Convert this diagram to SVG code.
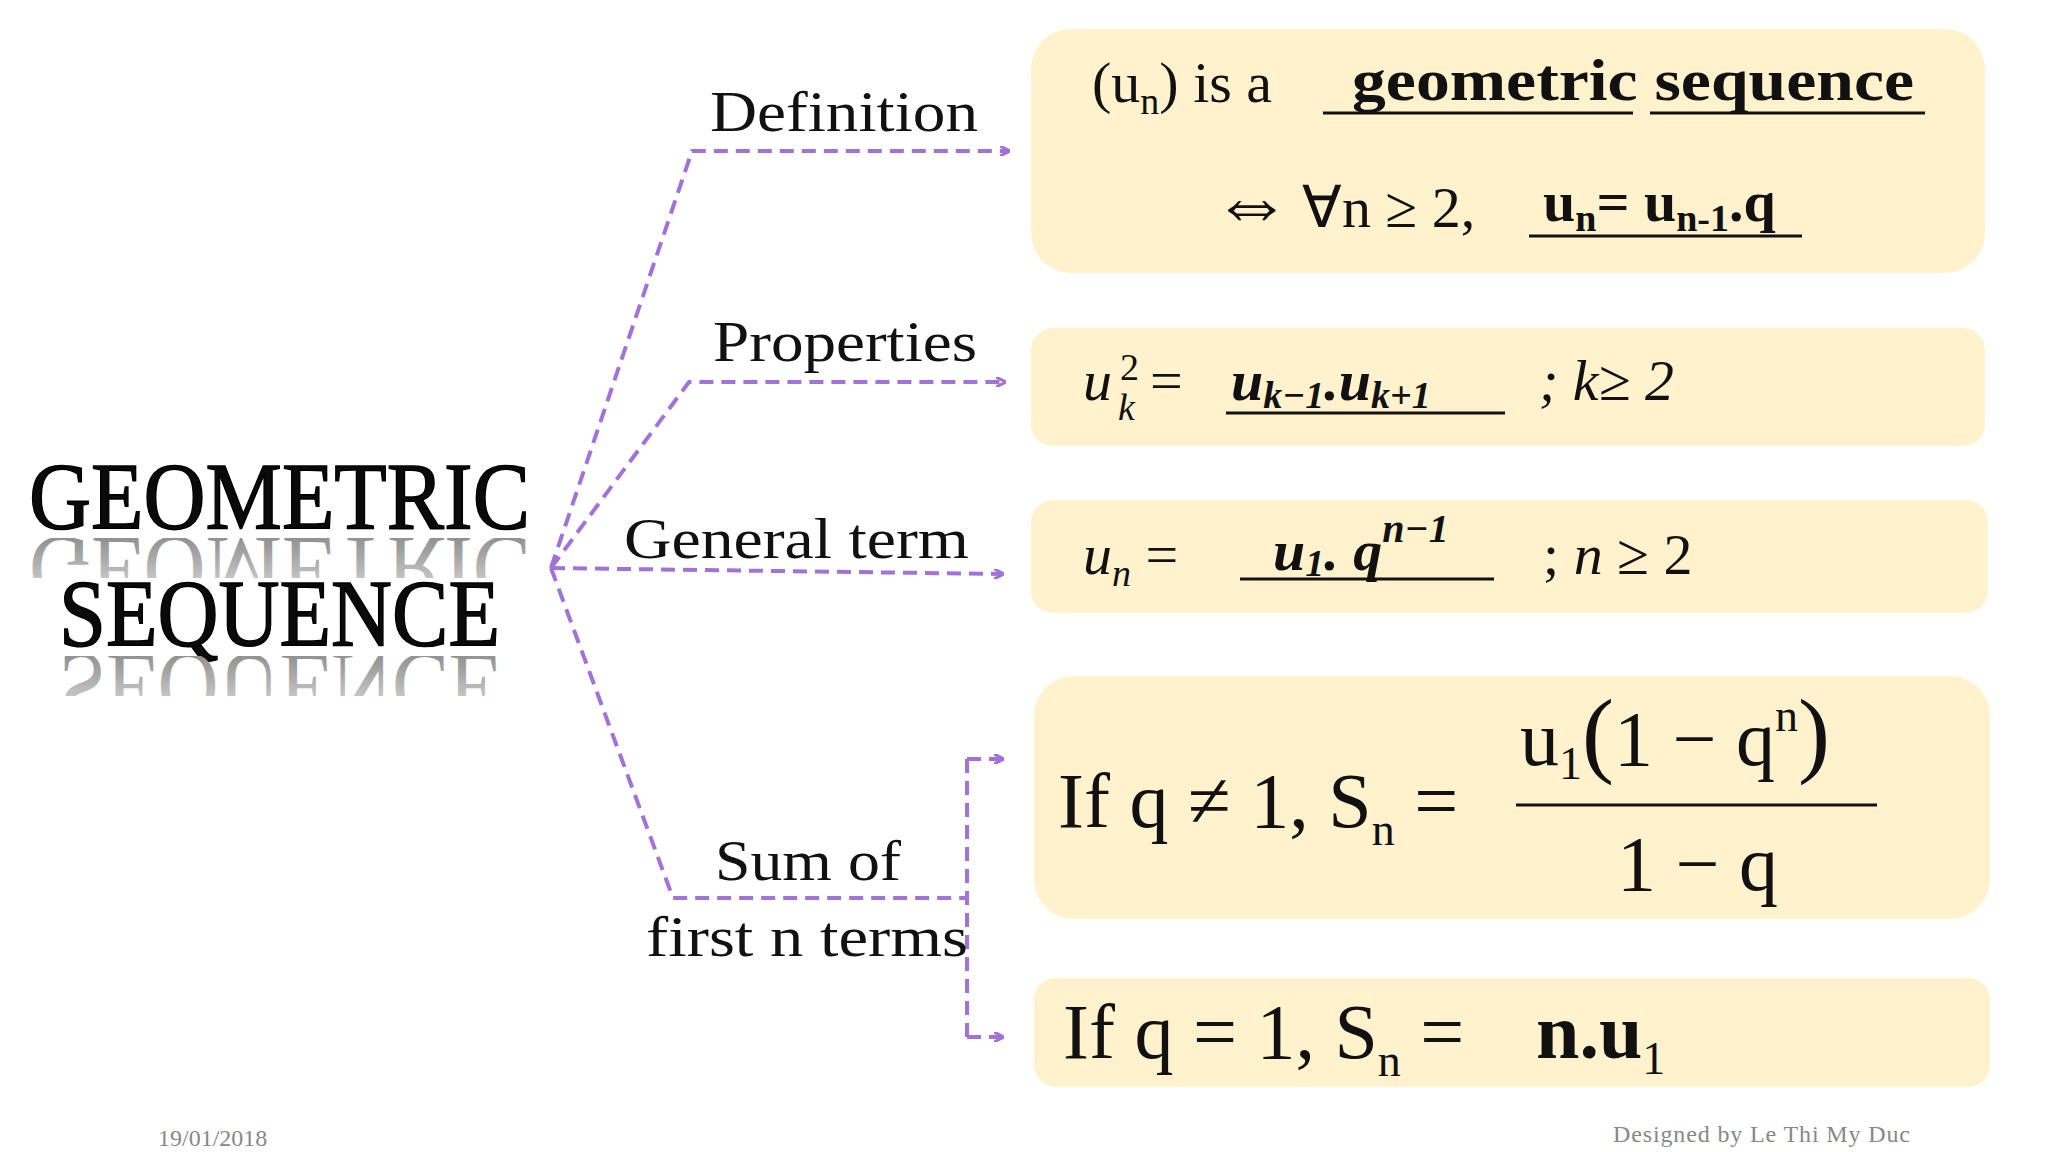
<svg xmlns="http://www.w3.org/2000/svg" width="2048" height="1152" viewBox="0 0 2048 1152">
<style>
.box{fill:#FFF2CC}
.lbl{font-family:"Liberation Serif",serif;font-size:58px;fill:#111}
.m{font-family:"Liberation Serif",serif;fill:#111}
.con{fill:none;stroke:#A372D8;stroke-width:4;stroke-dasharray:14 8}
.ul{stroke:#111;stroke-width:3}
.title{font-family:"Liberation Serif",serif;font-size:96px;fill:#0a0a0a;stroke:#000;stroke-width:1.5}
.refl{font-family:"Liberation Serif",serif;font-size:96px;fill:url(#fade)}
.foot{font-family:"Liberation Serif",serif;font-size:24px;fill:#888}
</style>
<defs>
<marker id="ah" markerWidth="10" markerHeight="10" refX="8" refY="5" orient="auto" markerUnits="userSpaceOnUse"><path d="M0,0 L10,5 L0,10" fill="none" stroke="#A372D8" stroke-width="3"/></marker>
<linearGradient id="fade" x1="0" y1="0" x2="0" y2="1"><stop offset="0" stop-color="#fff"/><stop offset="0.6" stop-color="#aaa"/><stop offset="1" stop-color="#777"/></linearGradient>
<clipPath id="c1"><rect x="0" y="538" width="560" height="40"/></clipPath>
<clipPath id="c2"><rect x="0" y="656" width="560" height="40"/></clipPath>
</defs>
<rect width="2048" height="1152" fill="#fff"/>
<g id="title">
<text class="title" x="29" y="529" textLength="501" lengthAdjust="spacingAndGlyphs">GEOMETRIC</text>
<g clip-path="url(#c1)"><text class="refl" transform="translate(0,1066) scale(1,-1)" x="29" y="529" textLength="501" lengthAdjust="spacingAndGlyphs">GEOMETRIC</text></g>
<text class="title" x="59" y="646" textLength="441" lengthAdjust="spacingAndGlyphs">SEQUENCE</text>
<g clip-path="url(#c2)"><text class="refl" transform="translate(0,1300) scale(1,-1)" x="59" y="646" textLength="441" lengthAdjust="spacingAndGlyphs">SEQUENCE</text></g>
</g>
<g id="connectors">
<path class="con" d="M551,568 L692,151 L1008,151" marker-end="url(#ah)"/>
<path class="con" d="M551,568 L689,382 L1004,382" marker-end="url(#ah)"/>
<path class="con" d="M551,568 L1002,574" marker-end="url(#ah)"/>
<path class="con" d="M551,568 L673,898 L967,898"/>
<path class="con" d="M967,759 L967,1037"/>
<path class="con" d="M967,759 L1002,759" marker-end="url(#ah)"/>
<path class="con" d="M967,1037 L1002,1037" marker-end="url(#ah)"/>
</g>
<g id="labels">
<text class="lbl" x="710" y="131" textLength="268" lengthAdjust="spacingAndGlyphs">Definition</text>
<text class="lbl" x="713" y="361" textLength="264" lengthAdjust="spacingAndGlyphs">Properties</text>
<text class="lbl" x="624" y="558" textLength="345" lengthAdjust="spacingAndGlyphs">General term</text>
<text class="lbl" x="715" y="880" textLength="186" lengthAdjust="spacingAndGlyphs">Sum of</text>
<text class="lbl" x="646" y="956" textLength="322" lengthAdjust="spacingAndGlyphs">first n terms</text>
</g>
<g id="definition">
<rect class="box" x="1031" y="29" width="954" height="244" rx="40"/>
<text class="m" x="1092" y="102" font-size="58">(u<tspan font-size="38" dy="12">n</tspan><tspan dy="-12">) is a</tspan></text>
<text class="m" x="1352" y="100" font-size="60" font-weight="bold" textLength="562" lengthAdjust="spacingAndGlyphs">geometric sequence</text>
<line class="ul" x1="1323" y1="113" x2="1633" y2="113"/>
<line class="ul" x1="1650" y1="113" x2="1925" y2="113"/>
<text class="m" x="1212" y="229" font-size="80" font-family="DejaVu Sans">⇔</text>
<text class="m" x="1302" y="227" font-size="58">∀n ≥ 2,</text>
<text class="m" x="1543" y="221" font-size="58" font-weight="bold">u<tspan font-size="38" dy="10">n</tspan><tspan dy="-10">= u</tspan><tspan font-size="38" dy="10">n-1</tspan><tspan dy="-10">.q</tspan></text>
<line class="ul" x1="1529" y1="236" x2="1802" y2="236"/>
</g>
<g id="properties">
<rect class="box" x="1031" y="328" width="954" height="118" rx="22"/>
<text class="m" x="1083" y="400" font-size="58" font-style="italic">u</text>
<text class="m" x="1120" y="380" font-size="38">2</text>
<text class="m" x="1118" y="420" font-size="38" font-style="italic">k</text>
<text class="m" x="1150" y="400" font-size="58">=</text>
<text class="m" x="1231" y="400" font-size="58" font-style="italic" font-weight="bold">u<tspan font-size="38" dy="8">k−1</tspan><tspan dy="-8">.u</tspan><tspan font-size="38" dy="8">k+1</tspan></text>
<line class="ul" x1="1226" y1="413" x2="1505" y2="413"/>
<text class="m" x="1539" y="400" font-size="58" font-style="italic">; k≥ 2</text>
</g>
<g id="general">
<rect class="box" x="1031" y="500" width="957" height="113" rx="22"/>
<text class="m" x="1083" y="574" font-size="58" font-style="italic">u<tspan font-size="38" dy="12">n</tspan><tspan dy="-12" font-style="normal"> =</tspan></text>
<text class="m" x="1273" y="570" font-size="58" font-style="italic" font-weight="bold">u<tspan font-size="38" dy="6">1</tspan><tspan dy="-6">. q</tspan><tspan font-size="40" dy="-28">n−1</tspan></text>
<line class="ul" x1="1240" y1="579" x2="1494" y2="579"/>
<text class="m" x="1543" y="574" font-size="58">; <tspan font-style="italic">n</tspan> ≥ 2</text>
</g>
<g id="sum1">
<rect class="box" x="1034" y="676" width="956" height="243" rx="40"/>
<text class="m" x="1058" y="827" font-size="78">If q ≠ 1, S<tspan font-size="46" dy="18">n</tspan><tspan dy="-18"> =</tspan></text>
<text class="m" x="1520" y="765" font-size="78">u<tspan font-size="46" dy="14">1</tspan><tspan dy="-14" font-size="96">(</tspan>1 − q<tspan font-size="46" dy="-34">n</tspan><tspan dy="34" font-size="96">)</tspan></text>
<line class="ul" x1="1516" y1="805" x2="1877" y2="805"/>
<text class="m" x="1617" y="890" font-size="78">1 − q</text>
</g>
<g id="sum2">
<rect class="box" x="1034" y="978" width="956" height="109" rx="22"/>
<text class="m" x="1063" y="1058" font-size="78">If q = 1, S<tspan font-size="46" dy="18">n</tspan><tspan dy="-18"> =</tspan></text>
<text class="m" x="1536" y="1058" font-size="78" font-weight="bold">n.u<tspan font-size="46" font-weight="normal" dy="16">1</tspan></text>
</g>
<g id="footer">
<text class="foot" x="158" y="1146">19/01/2018</text>
<text class="foot" x="1613" y="1142" textLength="297">Designed by Le Thi My Duc</text>
</g>
</svg>
